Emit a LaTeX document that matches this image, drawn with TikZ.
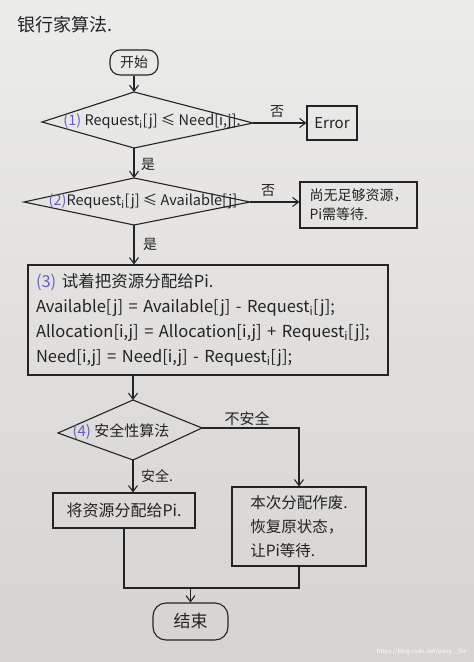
\documentclass[tikz,border=0pt]{standalone}
\usepackage{fontspec}
\setmainfont{Noto Sans CJK SC}
\usetikzlibrary{arrows.meta,calc}
\definecolor{papertop}{RGB}{236,236,234}
\definecolor{paperbot}{RGB}{214,211,209}
\definecolor{ink}{RGB}{35,35,35}
\definecolor{num}{RGB}{105,95,190}
\begin{document}
\begin{tikzpicture}[x=1pt,y=-1pt,
  line/.style={draw=ink,line width=1.1pt},
  arr/.style={line,-{Straight Barb[length=6pt,width=9pt]}},
  box/.style={draw=ink,line width=1.1pt,rectangle,inner sep=0pt,text=ink,
    font=\fontsize{14}{22}\selectfont},
  term/.style={box,rounded corners=10pt},
  dtext/.style={text=ink,font=\fontsize{14.5}{17}\selectfont,inner sep=0pt},
  lbl/.style={text=ink,font=\fontsize{14}{16}\selectfont,inner sep=1pt}]
\shade[top color=papertop,bottom color=paperbot] (0,0) rectangle (474,662);
\useasboundingbox (0,0) rectangle (474,662);

% title
\node[text=ink,font=\fontsize{18}{20}\selectfont,anchor=west] (title) at (14,25) {银行家算法.};

% start
\node[term,minimum width=48pt,minimum height=25pt,font=\fontsize{14}{16}\selectfont] (start) at (134,62.5) {开始};

% diamond 1
\coordinate (d1t) at (134,92);
\coordinate (d1r) at (253,123);
\coordinate (d1b) at (134,148);
\coordinate (d1l) at (42,122);
\draw[line] (d1t) -- (d1r) -- (d1b) -- (d1l) -- cycle;
\node[dtext] (d1) at (152,121) {\textcolor{num}{(1)} Request\textsubscript{i}[j] ≤ Need[i,j].};

\node[box,minimum width=50pt,minimum height=34pt,font=\fontsize{15}{17}\selectfont] (err) at (332,123) {Error};

% diamond 2
\coordinate (d2t) at (134,178);
\coordinate (d2r) at (250,202);
\coordinate (d2b) at (134,225);
\coordinate (d2l) at (24,202);
\draw[line] (d2t) -- (d2r) -- (d2b) -- (d2l) -- cycle;
\node[dtext] (d2) at (143,201) {\textcolor{num}{(2)}Request\textsubscript{i}[j] ≤ Available[j]};

\node[box,minimum width=117pt,minimum height=46pt,align=left,font=\fontsize{14}{19}\selectfont] (wait) at (358.5,205) {尚无足够资源，\\Pi需等待.};

% box 3
\node[box,text width=344pt,inner xsep=8pt,minimum height=110pt,align=left,
  font=\fontsize{16.5}{25}\selectfont] (try) at (208,320)
  {\textcolor{num}{(3)} 试着把资源分配给Pi.\\
   Available[j] = Available[j] - Request\textsubscript{i}[j];\\
   Allocation[i,j] = Allocation[i,j] + Request\textsubscript{i}[j];\\
   Need[i,j] = Need[i,j] - Request\textsubscript{i}[j];};

% diamond 4
\coordinate (d4t) at (133,400);
\coordinate (d4r) at (202,428);
\coordinate (d4b) at (133,460);
\coordinate (d4l) at (58,433);
\draw[line] (d4t) -- (d4r) -- (d4b) -- (d4l) -- cycle;
\node[dtext,font=\fontsize{15}{17}\selectfont] (d4) at (121,432) {\textcolor{num}{(4)} 安全性算法};

\node[box,minimum width=142pt,minimum height=35pt,font=\fontsize{16}{18}\selectfont] (give) at (124,510.5) {将资源分配给Pi.};
\node[box,minimum width=134pt,minimum height=79pt,align=left,font=\fontsize{15.5}{24}\selectfont] (undo) at (299,526.5)
  {本次分配作废.\\恢复原状态，\\让Pi等待.};

\node[term,minimum width=75pt,minimum height=37pt,rounded corners=13pt,
  font=\fontsize{17}{19}\selectfont] (end) at (190.5,621.5) {结束};

% connectors
\draw[arr] (start.south) -- (d1t);
\draw[arr] (d1r) -- (err.west |- d1r);
\node[lbl] (n1) at (277,112) {否};
\draw[arr] (d1b) -- (d2t);
\node[lbl] (y1) at (148,164) {是};
\draw[arr] (d2r) -- (wait.west |- d2r);
\node[lbl] (n2) at (268,191) {否};
\draw[arr] (d2b) -- (d2b |- try.north);
\node[lbl] (y2) at (150,244) {是};
\draw[arr] (try.south -| d4t) -- (d4t);
\draw[arr] (d4r) -- (d4r -| undo.north) -- (undo.north);
\node[lbl,font=\fontsize{15}{17}\selectfont] (ns) at (247,419) {不安全};
\draw[arr] (d4b) -- (d4b |- give.north);
\node[lbl] (ys) at (157,476) {安全.};
\coordinate (m) at (190.5,588);
\draw[line] (give.south) -- (give.south |- m) -- (undo.south |- m) -- (undo.south);
\draw[arr] (m) -- (end.north);

% watermark
\node[text=white,font=\fontsize{6}{7}\selectfont,anchor=east] (wm) at (470,652) {https://blog.csdn.net/pany\_\_for};
\end{tikzpicture}
\end{document}
